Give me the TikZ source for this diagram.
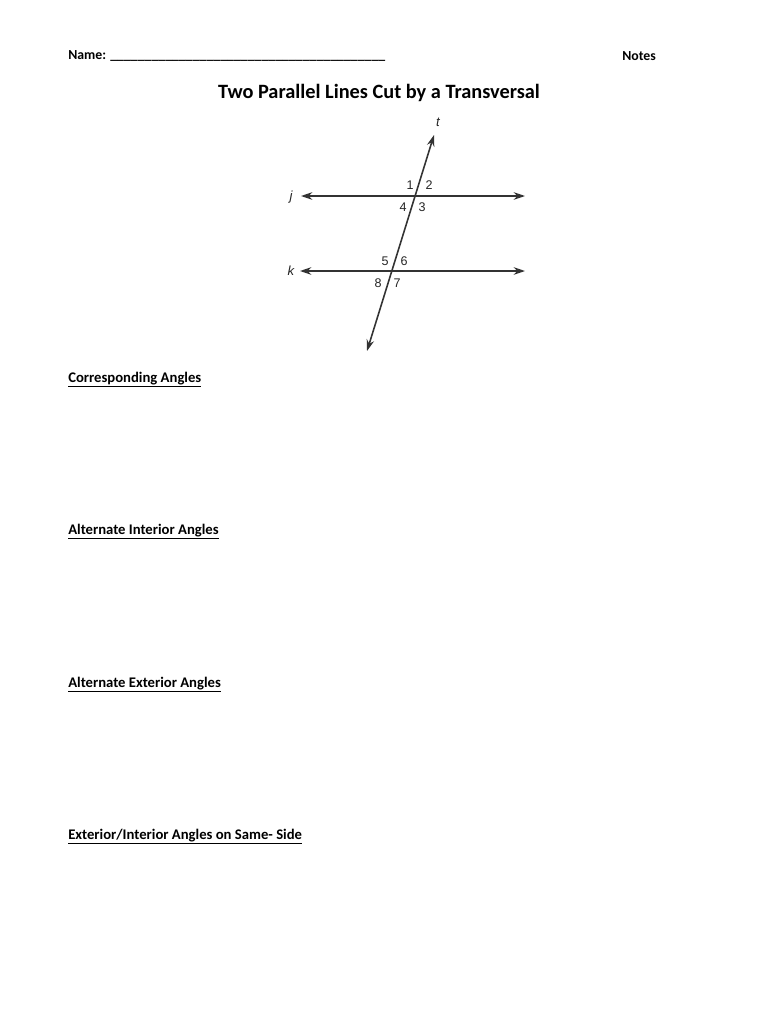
\documentclass[tikz,border=0pt]{standalone}
\usepackage{fontspec}
\setmainfont{Carlito}
\newfontfamily\figfont{Liberation Sans}
\usetikzlibrary{arrows.meta}
\tikzset{
  txt/.style={inner sep=0pt, anchor=west, font=\fontsize{11}{13}\selectfont\bfseries},
  sect/.style={inner sep=0pt, anchor=base west, font=\fontsize{11.7}{14}\selectfont\bfseries},
  lbl/.style={inner sep=0pt, font=\figfont\fontsize{10}{11}\selectfont, text=black!85},
  letter/.style={inner sep=0pt, font=\figfont\itshape\fontsize{10.5}{12}\selectfont, text=black!85},
  geo/.style={line width=1.25pt, draw=black!80, {Stealth[length=9pt,width=6pt]}-{Stealth[length=9pt,width=6pt]}},
}
\begin{document}
\begin{tikzpicture}[x=0.796875pt,y=-0.796875pt]
\useasboundingbox[fill=white] (0,0) rectangle (768,1024);
% header
\node[txt] (name) at (68,56) {Name: \_\_\_\_\_\_\_\_\_\_\_\_\_\_\_\_\_\_\_\_\_\_\_\_\_\_\_\_\_\_\_\_\_\_\_\_\_\_\_\_};
\node[txt] (notes) at (622,56) {Notes};
\node[inner sep=0pt, font=\fontsize{16.2}{19}\selectfont\bfseries] (title) at (379,93) {Two Parallel Lines Cut by a Transversal};
% diagram
\coordinate (tTop) at (434,135);
\coordinate (tBot) at (367,351);
\coordinate (jL) at (301,196);
\coordinate (jR) at (525,196);
\coordinate (kL) at (300,271);
\coordinate (kR) at (525,271);
\draw[geo] (jL) -- (jR);
\draw[geo] (kL) -- (kR);
\draw[geo] (tBot) -- (tTop);
\node[letter] (t) at (438,122) {t};
\node[letter] (j) at (291,197) {j};
\node[letter] (k) at (291,271) {k};
\node[lbl] (a1) at (410,185) {1};
\node[lbl] (a2) at (429,185) {2};
\node[lbl] (a4) at (403,207) {4};
\node[lbl] (a3) at (422,207) {3};
\node[lbl] (a5) at (385,261) {5};
\node[lbl] (a6) at (404,261) {6};
\node[lbl] (a8) at (378,283) {8};
\node[lbl] (a7) at (397,283) {7};
% sections
\node[sect] (s1) at (68,382) {\underline{Corresponding Angles}};
\node[sect] (s2) at (68,534) {\underline{Alternate Interior Angles}};
\node[sect] (s3) at (68,687) {\underline{Alternate Exterior Angles}};
\node[sect] (s4) at (68,839) {\underline{Exterior/Interior Angles on Same- Side}};
\end{tikzpicture}
\end{document}
